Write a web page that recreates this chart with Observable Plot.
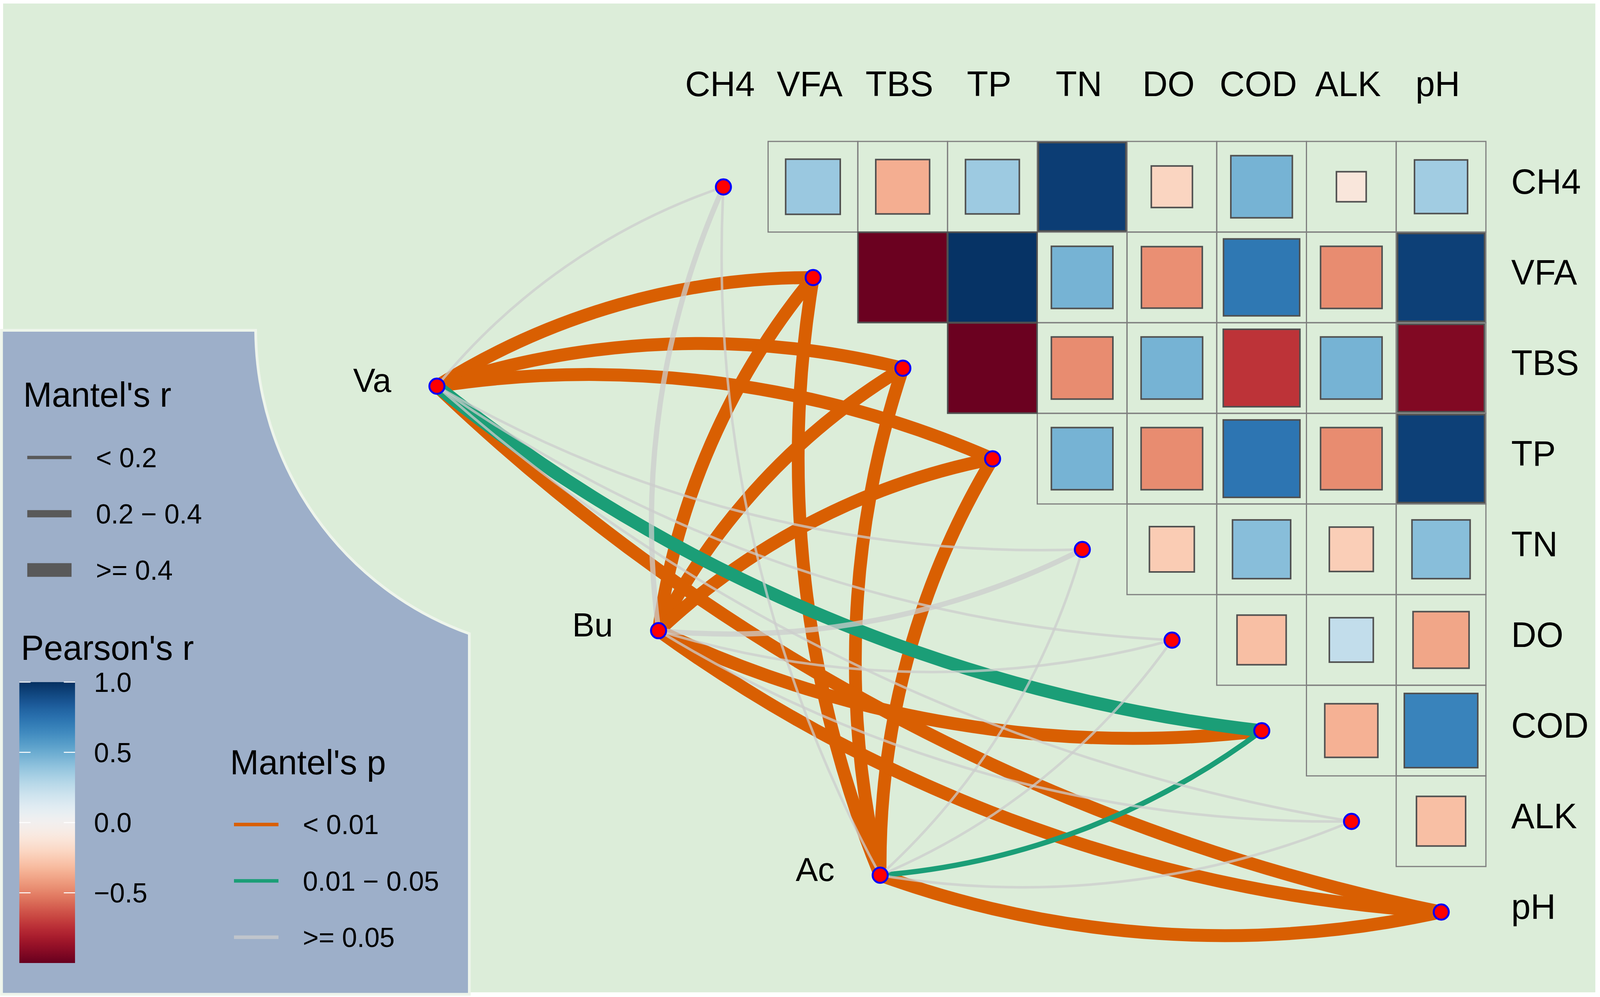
<!DOCTYPE html>
<html><head><meta charset="utf-8">
<script src="https://cdn.jsdelivr.net/npm/d3@7"></script>
<script src="https://cdn.jsdelivr.net/npm/@observablehq/plot@0.6"></script>
<style>
html,body{margin:0;padding:0;background:#fff;overflow:hidden;}
#wrap{position:absolute;left:0;top:0;width:4137px;height:2552px;overflow:hidden;font-family:"Liberation Sans",Arial,sans-serif;transform-origin:0 0;}
#panel{position:absolute;left:8px;top:9px;width:4117px;height:2531px;background:#DCEDD9;}
#legend,#chart{position:absolute;left:0;top:0;}
</style></head><body>
<div id="wrap"><div id="panel"></div><svg id="legend" width="4137" height="2552"></svg><div id="chart"></div></div>
<script>
// ---------------- data ----------------
const envVars = ["CH4", "VFA", "TBS", "TP", "TN", "DO", "COD", "ALK", "pH"];
// Pearson's r, upper triangle: each row against the variables that follow it
const r_CH4 = [0.37, -0.36, 0.36, 0.95, -0.21, 0.47, -0.11, 0.35];
const r_VFA = [-0.99, 0.99, 0.47, -0.46, 0.72, -0.47, 0.94];
const r_TBS = [-0.99, -0.47, 0.47, -0.73, 0.47, -0.93];
const r_TP  = [0.47, -0.47, 0.73, -0.47, 0.94];
const r_TN  = [-0.25, 0.42, -0.24, 0.42];
const r_DO  = [-0.30, 0.24, -0.39];
const r_COD = [-0.35, 0.67];
const r_ALK = [-0.30];
const pearsonRows = [r_CH4, r_VFA, r_TBS, r_TP, r_TN, r_DO, r_COD, r_ALK];
const pearsonTicks = [1.0, 0.5, 0.0, -0.5];
const pearsonTickLabels = ["1.0", "0.5", "0.0", "\u22120.5"];

const species = ["Va", "Bu", "Ac"];
const pLevels = ["< 0.01", "0.01 \u2212 0.05", ">= 0.05"];
const rLevels = ["< 0.2", "0.2 \u2212 0.4", ">= 0.4"];
const P1 = pLevels[0], P2 = pLevels[1], P3 = pLevels[2];
const R1 = rLevels[0], R2 = rLevels[1], R3 = rLevels[2];
// Mantel test classes, per species, against envVars in order
const mantelP_Va = [P3, P1, P1, P1, P3, P3, P2, P3, P1];
const mantelR_Va = [R1, R3, R3, R3, R1, R1, R3, R1, R3];
const mantelP_Bu = [P3, P1, P1, P1, P3, P3, P1, P3, P1];
const mantelR_Bu = [R2, R3, R3, R3, R2, R1, R3, R1, R3];
const mantelP_Ac = [P3, P1, P1, P1, P3, P3, P2, P3, P1];
const mantelR_Ac = [R1, R3, R3, R3, R1, R1, R2, R1, R3];

// ---------------- layout & style ----------------
const W = 4137, H = 2552;
const CELL = 232, OX = 1870, OY = 478;          // pixel of grid cell (0,0) centre
const SP0 = [-3.193, 2.198], SPSTEP = [2.47, 2.698]; // species node placement
const BEND = 16, BEND_SPLIT = 4;
const FONT = "Liberation Sans, Arial, sans-serif";
const pStyle = {};
pStyle[P1] = {stroke: "#D95F02", opacity: 1};
pStyle[P2] = {stroke: "#1B9E77", opacity: 1};
pStyle[P3] = {stroke: "#CCCCCC", opacity: 0.75};
const rWidth = {};
rWidth[R1] = 6.5; rWidth[R2] = 13.5; rWidth[R3] = 33;

// fit the fixed-size drawing into whatever viewport is photographed
function fit() {
  const vw = document.documentElement.clientWidth || window.innerWidth;
  const vh = document.documentElement.clientHeight || window.innerHeight;
  const sx = vw / W, sy = vh / H;
  document.getElementById("wrap").style.transform = `scale(${sx}, ${sy})`;
}
fit();
window.addEventListener("resize", fit);

// ---------------- derived tables ----------------
const cells = [];
pearsonRows.forEach((row, i) => row.forEach((r, k) => cells.push({row: i, col: i + 1 + k, r})));
const mantelP = [mantelP_Va, mantelP_Bu, mantelP_Ac];
const mantelR = [mantelR_Va, mantelR_Bu, mantelR_Ac];
const spNodes = species.map((name, i) => ({name, x: SP0[0] + i * SPSTEP[0], y: SP0[1] + i * SPSTEP[1]}));
const envNodes = envVars.map((name, j) => ({name, x: j, y: j}));
const links = [];
spNodes.forEach((s, i) => envVars.forEach((e, j) =>
  links.push({x1: s.x, y1: s.y, x2: j, y2: j, p: mantelP[i][j], r: mantelR[i][j], up: j < BEND_SPLIT})));

const linkMarks = [];
for (const p of pLevels) for (const up of [true, false]) {
  linkMarks.push(Plot.arrow(links.filter(d => d.p === p && d.up === up), {
    x1: "x1", y1: "y1", x2: "x2", y2: "y2",
    stroke: pStyle[p].stroke, strokeOpacity: pStyle[p].opacity,
    strokeWidth: d => rWidth[d.r],
    bend: up ? BEND : -BEND, headLength: 0, strokeLinecap: "butt"
  }));
}

const plot = Plot.plot({
  width: W, height: H, margin: 0,
  style: {background: "transparent", fontFamily: FONT, overflow: "visible", maxWidth: "none"},
  x: {domain: [-OX / CELL, (W - OX) / CELL], range: [0, W], axis: null},
  y: {domain: [-OY / CELL, (H - OY) / CELL], range: [0, H], axis: null},
  color: {type: "linear", scheme: "RdBu", domain: [-1, 1]},
  marks: [
    Plot.rect(cells, {x1: d => d.col - 0.5, x2: d => d.col + 0.5, y1: d => d.row - 0.5, y2: d => d.row + 0.5,
      fill: "none", stroke: "#7f7f7f", strokeWidth: 3}),
    Plot.rect(cells, {
      x1: d => d.col - Math.sqrt(Math.abs(d.r)) / 2, x2: d => d.col + Math.sqrt(Math.abs(d.r)) / 2,
      y1: d => d.row - Math.sqrt(Math.abs(d.r)) / 2, y2: d => d.row + Math.sqrt(Math.abs(d.r)) / 2,
      fill: "r", stroke: "#505050", strokeWidth: 4}),
    ...linkMarks,
    Plot.dot(envNodes, {x: "x", y: "y", r: 19.5, fill: "#FF0000", stroke: "#0000FF", strokeWidth: 5}),
    Plot.dot(spNodes, {x: "x", y: "y", r: 19.5, fill: "#FF0000", stroke: "#0000FF", strokeWidth: 5}),
    Plot.text(envVars, {x: (d, i) => i, y: () => -1.125, text: d => d, dx: -9, fontSize: 90, fill: "black"}),
    Plot.text(envVars, {x: () => envVars.length - 1, y: (d, i) => i, text: d => d, dx: 181, dy: -11.5,
      textAnchor: "start", fontSize: 90, fill: "black"}),
    Plot.text(spNodes, {x: "x", y: "y", text: "name", dx: -118, dy: -13, textAnchor: "end", fontSize: 86, fill: "black"})
  ]
});
document.getElementById("chart").appendChild(plot);

// ---------------- legend ----------------
const L = d3.select("#legend");
const grad = L.append("defs").append("linearGradient").attr("id", "rdbu")
  .attr("x1", 0).attr("y1", 0).attr("x2", 0).attr("y2", 1);
d3.range(0, 1.0001, 0.02).forEach(o => grad.append("stop").attr("offset", o).attr("stop-color", d3.interpolateRdBu(1 - o)));
L.append("path").attr("d", "M4,845.5H661A830,830 0 0 0 1213.5,1622V2545H4Z")
  .attr("fill", "#9DAFC9").attr("stroke", "#EEF5EB").attr("stroke-width", 7);
function txt(x, y, s, size) {
  L.append("text").attr("x", x).attr("y", y).attr("font-size", size).attr("font-family", FONT).attr("fill", "#000").text(s);
}
const TITLE = 89, LAB = 70;
// Mantel's r
txt(60, 1041, "Mantel's r", TITLE);
const rKeyW = [8.4, 18.4, 35];
rLevels.forEach((lab, i) => {
  const cy = 1171 + i * 144;
  L.append("line").attr("x1", 70.5).attr("x2", 185).attr("y1", cy).attr("y2", cy)
    .attr("stroke", "#595959").attr("stroke-width", rKeyW[i]);
  txt(248, cy + 25, lab, LAB);
});
// Pearson's r
txt(54, 1689, "Pearson's r", TITLE);
const barTop = 1746, barH = 719, barX = 50, barW = 144;
L.append("rect").attr("x", barX).attr("y", barTop).attr("width", barW).attr("height", barH).attr("fill", "url(#rdbu)");
const vy = v => barTop + (1 - v) / 2 * barH;
pearsonTicks.forEach((v, i) => {
  const y = vy(v);
  L.append("line").attr("x1", barX).attr("x2", barX + 29).attr("y1", y).attr("y2", y).attr("stroke", "#fff").attr("stroke-width", 2.5);
  L.append("line").attr("x1", barX + barW - 29).attr("x2", barX + barW).attr("y1", y).attr("y2", y).attr("stroke", "#fff").attr("stroke-width", 2.5);
  txt(243, y + 25, pearsonTickLabels[i], LAB);
});
// Mantel's p
txt(595, 1982, "Mantel's p", TITLE);
pLevels.forEach((lab, i) => {
  const cy = 2110.5 + i * 144.3;
  L.append("line").attr("x1", 605).attr("x2", 720).attr("y1", cy).attr("y2", cy)
    .attr("stroke", pStyle[lab].stroke).attr("stroke-opacity", pStyle[lab].opacity).attr("stroke-width", 9);
  txt(783, cy + 25, lab, LAB);
});
</script>
</body></html>
